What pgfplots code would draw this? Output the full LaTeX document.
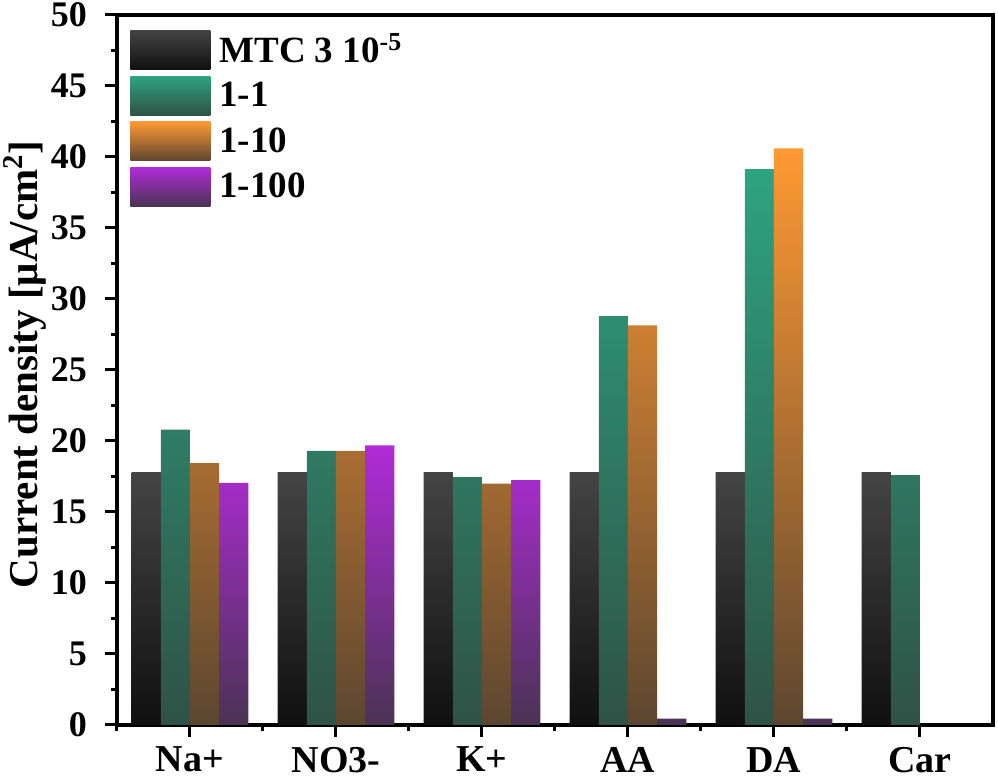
\documentclass[border=0pt]{standalone}
\usepackage{pgfplots}
\pgfplotsset{compat=1.18}
\usepackage{fontspec}
\setmainfont{Liberation Serif}
\definecolor{bTop}{HTML}{444444}\definecolor{bBot}{HTML}{101010}
\definecolor{gTop}{HTML}{2EA37F}\definecolor{gBot}{HTML}{2F5246}
\definecolor{oTop}{HTML}{FF9933}\definecolor{oBot}{HTML}{5C4630}
\definecolor{pTop}{HTML}{B12BD9}\definecolor{pBot}{HTML}{4A3354}
\begin{document}
\begin{tikzpicture}
\begin{axis}[
  scale only axis, width=438pt, height=355pt,
  xmin=-0.5, xmax=5.5, ymin=0, ymax=50,
  xtick={0,1,2,3,4,5}, xticklabels={Na+,NO3-,K+,AA,DA,Car},
  minor xtick={-0.5,0.5,1.5,2.5,3.5,4.5},
  ytick={0,5,...,50}, minor ytick={2.5,7.5,...,47.5},
  tick pos=left, tick align=outside,
  major tick length=6pt, minor tick length=3pt,
  every tick/.style={line width=1.5pt, black},
  axis line style={line width=1.9pt},
  /pgf/number format/assume math mode=true,
  yticklabel style={font=\fontsize{18}{20}\selectfont\bfseries, xshift=-5.5pt},
  xticklabel style={font=\fontsize{19}{21}\selectfont\bfseries, yshift=-1.5pt},
  ylabel={Current density [μA/cm\textsuperscript{2}]},
  ylabel style={font=\fontsize{20.5}{22}\selectfont\bfseries, at={(axis description cs:-0.105,0.508)}, anchor=center},
  legend cell align=left,
  legend image code/.code={\draw[#1,draw=none] (0pt,-9.75pt) rectangle (40pt,9.75pt);},
  legend style={draw=none, fill=none, at={(axis description cs:0,1)}, anchor=north west, xshift=6.5pt, yshift=-7pt, inner sep=0pt, row sep=3.2pt, column sep=0pt, font=\fontsize{18.5}{21}\selectfont\bfseries, nodes={inner xsep=4.5pt}},
]
\addplot[ybar, bar width=0.2, bar shift=-0.3, draw=none, top color=bTop, middle color=bTop!75!bBot, bottom color=bBot]
  coordinates {(0,17.8)(1,17.8)(2,17.8)(3,17.8)(4,17.8)(5,17.8)};
\addlegendentry{MTC 3 10\textsuperscript{-5}}
\addplot[ybar, bar width=0.2, bar shift=-0.1, draw=none, top color=gTop, middle color=gTop!65!gBot, bottom color=gBot]
  coordinates {(0,20.8)(1,19.3)(2,17.45)(3,28.8)(4,39.15)(5,17.6)};
\addlegendentry{1-1}
\addplot[ybar, bar width=0.2, bar shift=0.1, draw=none, top color=oTop, middle color=oTop!65!oBot, bottom color=oBot]
  coordinates {(0,18.45)(1,19.3)(2,17.0)(3,28.15)(4,40.6)};
\addlegendentry{1-10}
\addplot[ybar, bar width=0.2, bar shift=0.3, draw=none, top color=pTop, middle color=pTop!65!pBot, bottom color=pBot]
  coordinates {(0,17.05)(1,19.7)(2,17.25)(3,0.45)(4,0.45)};
\addlegendentry{1-100}
\end{axis}
\pgfresetboundingbox
\path[use as bounding box] (-58.5pt,-27.5pt) rectangle (440.5pt,362.5pt);
\end{tikzpicture}
\end{document}
